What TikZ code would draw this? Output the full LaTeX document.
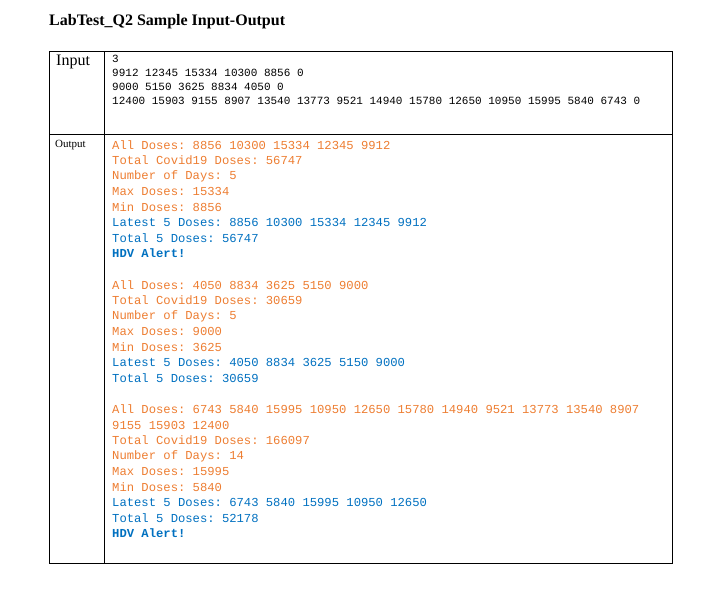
\documentclass[tikz,border=0pt]{standalone}
\usepackage{fontspec}
\setmainfont{Liberation Serif}
\setmonofont{Liberation Mono}
\definecolor{orng}{RGB}{237,125,49}
\definecolor{blu}{RGB}{0,112,192}
\begin{document}
\begin{tikzpicture}[x=1pt,y=-1pt,
  ln/.style={anchor=west,inner sep=0pt,font=\fontsize{12.2}{14}\ttfamily},
  inl/.style={anchor=west,inner sep=0pt,font=\fontsize{11}{13}\ttfamily},
  o/.style={ln,text=orng}, b/.style={ln,text=blu}]
\useasboundingbox (0,0) rectangle (726,592);
\node[anchor=west,inner sep=0pt,font=\fontsize{16}{18}\selectfont\bfseries] (title) at (49,22) {LabTest\_Q2 Sample Input-Output};
\draw[line width=0.8pt] (49,51) rectangle (672,563);
\draw[line width=0.8pt] (104,51) -- (104,563);
\draw[line width=0.8pt] (49,134) -- (672,134);
\node[anchor=west,inner sep=0pt,font=\fontsize{16}{18}\selectfont] (inlab) at (56,62) {Input};
\node[anchor=west,inner sep=0pt,font=\fontsize{11}{13}\selectfont] (outlab) at (55,145) {Output};
\node[inl] (i1) at (112,59) {3};
\node[inl] (i2) at (112,73) {9912 12345 15334 10300 8856 0};
\node[inl] (i3) at (112,87) {9000 5150 3625 8834 4050 0};
\node[inl] (i4) at (112,101) {12400 15903 9155 8907 13540 13773 9521 14940 15780 12650 10950 15995 5840 6743 0};
\node[o] (a1) at (112,145) {All Doses: 8856 10300 15334 12345 9912};
\node[o] (a2) at (112,160.5) {Total Covid19 Doses: 56747};
\node[o] (a3) at (112,176) {Number of Days: 5};
\node[o] (a4) at (112,191.5) {Max Doses: 15334};
\node[o] (a5) at (112,207) {Min Doses: 8856};
\node[b] (a6) at (112,222.5) {Latest 5 Doses: 8856 10300 15334 12345 9912};
\node[b] (a7) at (112,238) {Total 5 Doses: 56747};
\node[b,font=\fontsize{12.2}{14}\ttfamily\bfseries] (a8) at (112,253.5) {HDV Alert!};
\node[o] (b1) at (112,285) {All Doses: 4050 8834 3625 5150 9000};
\node[o] (b2) at (112,300.5) {Total Covid19 Doses: 30659};
\node[o] (b3) at (112,316) {Number of Days: 5};
\node[o] (b4) at (112,331.5) {Max Doses: 9000};
\node[o] (b5) at (112,347) {Min Doses: 3625};
\node[b] (b6) at (112,362.5) {Latest 5 Doses: 4050 8834 3625 5150 9000};
\node[b] (b7) at (112,378) {Total 5 Doses: 30659};
\node[o] (c1) at (112,409.5) {All Doses: 6743 5840 15995 10950 12650 15780 14940 9521 13773 13540 8907};
\node[o] (c1b) at (112,425) {9155 15903 12400};
\node[o] (c2) at (112,440.5) {Total Covid19 Doses: 166097};
\node[o] (c3) at (112,456) {Number of Days: 14};
\node[o] (c4) at (112,471.5) {Max Doses: 15995};
\node[o] (c5) at (112,487) {Min Doses: 5840};
\node[b] (c6) at (112,502.5) {Latest 5 Doses: 6743 5840 15995 10950 12650};
\node[b] (c7) at (112,518) {Total 5 Doses: 52178};
\node[b,font=\fontsize{12.2}{14}\ttfamily\bfseries] (c8) at (112,533.5) {HDV Alert!};
\end{tikzpicture}
\end{document}
